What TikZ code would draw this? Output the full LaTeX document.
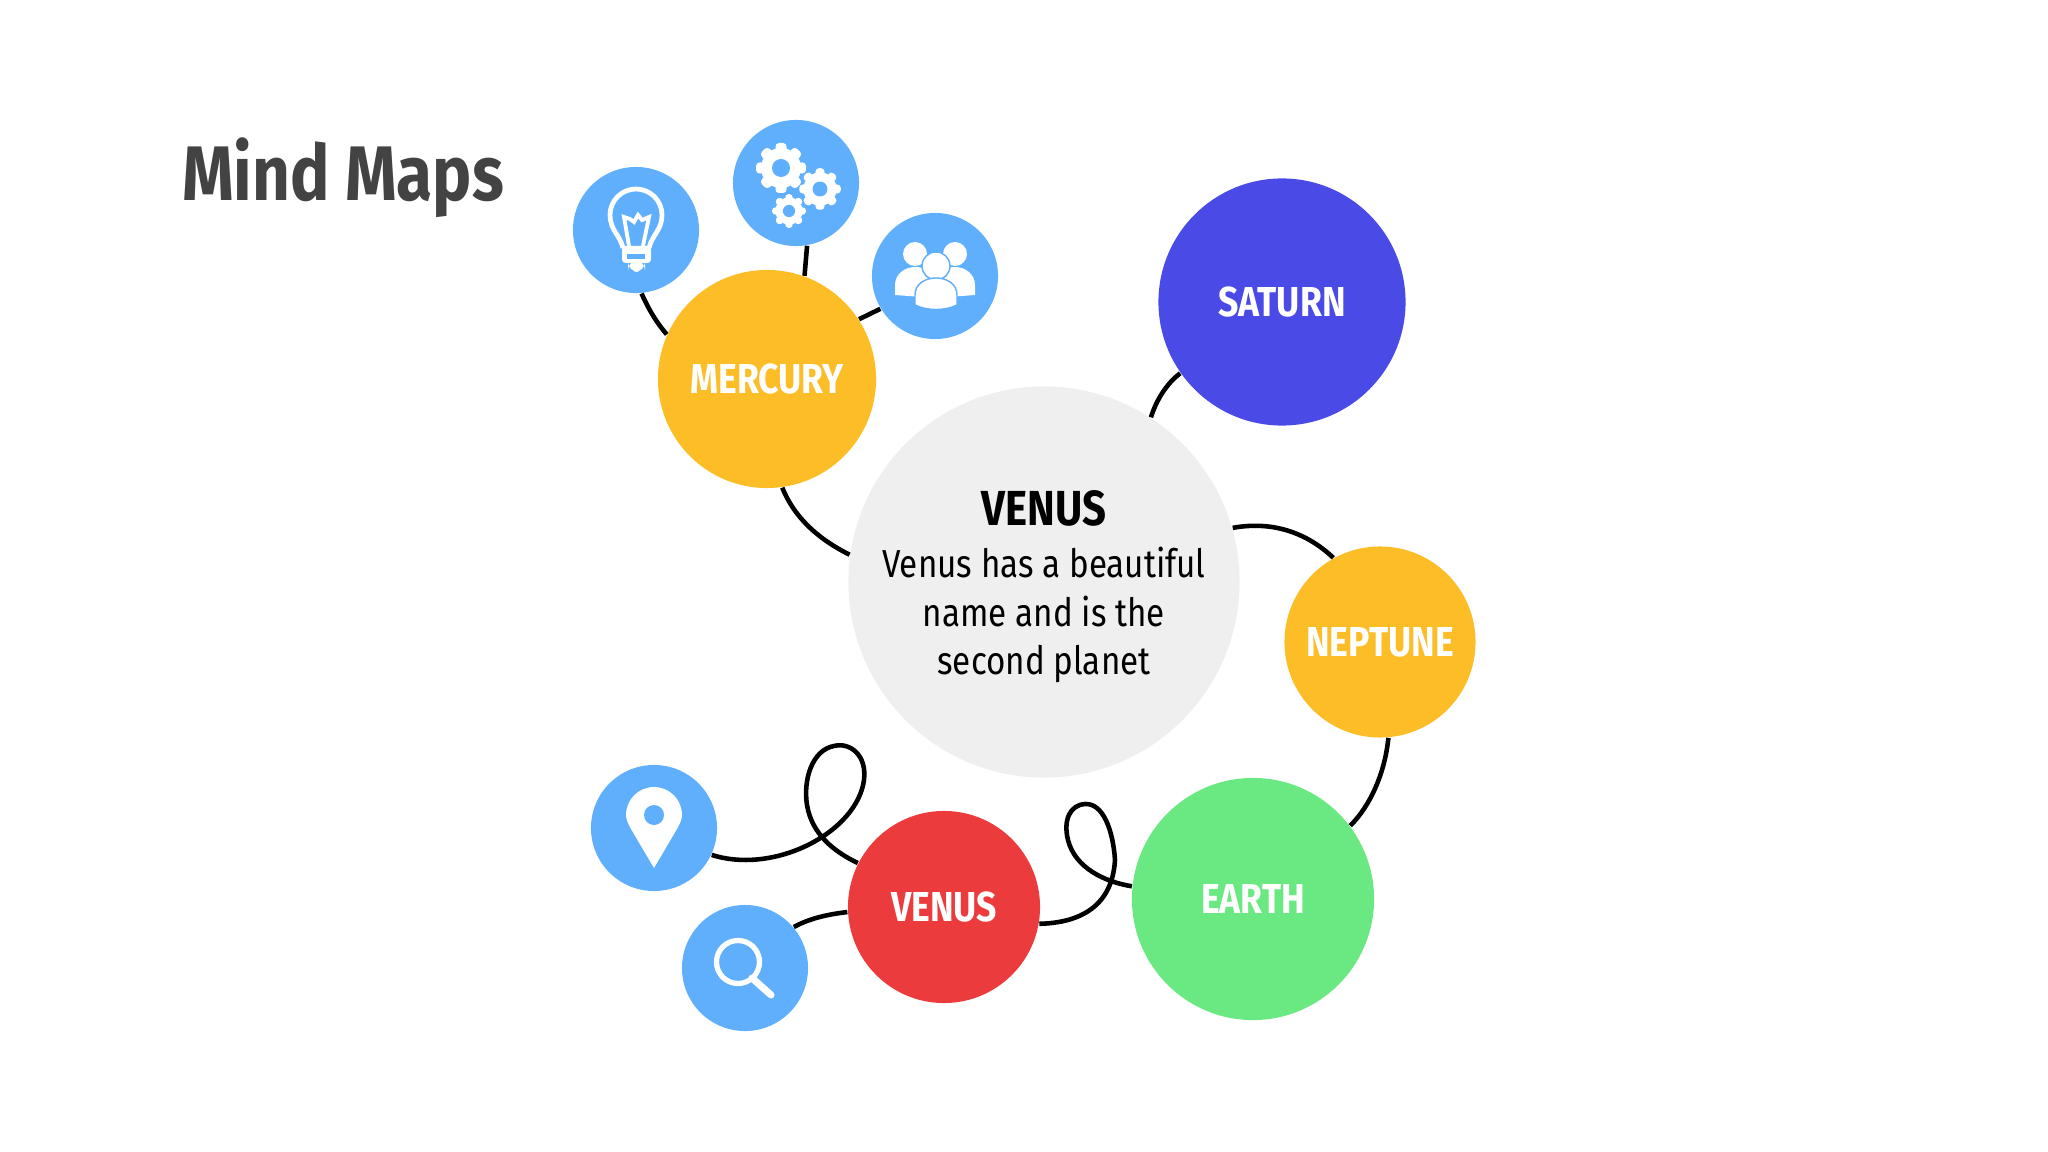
\documentclass[tikz,border=0pt]{standalone}
\usepackage{fontspec}
\setmainfont[FakeStretch=0.85]{Fira Sans}
\usepackage{xcolor}
\definecolor{iconblue}{HTML}{5FAFFC}
\definecolor{amber}{HTML}{FDBD27}
\definecolor{indigo}{HTML}{4A4AE6}
\definecolor{leaf}{HTML}{6AE882}
\definecolor{scarlet}{HTML}{EC3B3C}
\definecolor{pale}{HTML}{EFEFEF}
\definecolor{ink}{HTML}{434343}
\tikzset{
  planet/.style={circle, inner sep=0pt, align=center, text=white, font=\fontsize{11.9}{14}\selectfont\bfseries},
  icon/.style={circle, inner sep=0pt, fill=iconblue, minimum size=1.26cm},
  link/.style={draw=black, line width=1.3pt},
  gearpic/.pic={
    \fill[white] (0,0) circle[radius=20];
    \foreach \a in {0,45,...,315} {
      \fill[white, rotate=\a, rounded corners=1pt] (-5.5,16) rectangle (5.5,25);
    }
    \fill[iconblue] (0,0) circle[radius=9];
  }
}
\begin{document}
\begin{tikzpicture}[x=0.01cm, y=-0.01cm]
\useasboundingbox (0,0) rectangle (2048,1152);
\node[text=ink, font=\fontsize{22}{26}\selectfont\bfseries, inner sep=0pt] (title) at (343,178) {Mind Maps};

\node[planet, fill=pale, minimum size=3.91cm] (sun) at (1044,582) {};
\node[text=black, align=center, inner sep=0pt, font=\fontsize{11.1}{13.8}\selectfont] (sunlabel) at (1044,587)
  {{\fontsize{14}{17}\selectfont\bfseries VENUS}\\[1pt]Venus has a beautiful\\name and is the\\second planet};
\node[planet, fill=amber, minimum size=2.18cm] (mercury) at (767,379) {MERCURY};
\node[planet, fill=indigo, minimum size=2.47cm] (saturn) at (1282,302) {SATURN};
\node[planet, fill=amber, minimum size=1.91cm] (neptune) at (1380,642) {NEPTUNE};
\node[planet, fill=leaf, minimum size=2.42cm] (earth) at (1253,899) {EARTH};
\node[planet, fill=scarlet, minimum size=1.92cm] (venus) at (944,907) {VENUS};

\node[icon] (bulb) at (636,230) {};
\node[icon] (gears) at (796,183) {};
\node[icon] (people) at (935,276) {};
\node[icon] (pin) at (654,828) {};
\node[icon] (lens) at (745,968) {};

\draw[link] (bulb.-85) .. controls (648,308) and (656,322) .. (mercury.156);
\draw[link] (gears.-80) -- (mercury.70);
\draw[link] (people.211) -- (mercury.33);
\draw[link] (mercury.-82) .. controls (795,519) and (820,540) .. (sun.172);
\draw[link] (saturn.215) .. controls (1166,384) and (1156,401) .. (sun.57);
\draw[link] (sun.16.5) .. controls (1270,521) and (1305,531) .. (neptune.119);
\draw[link] (neptune.-85) .. controls (1385,772) and (1371,805) .. (earth.37);
\draw[link] (pin.-25) .. controls (775,875) and (857,832) .. (864,780) .. controls (867,755) and (850,742) .. (834,746) .. controls (812,750) and (803,780) .. (807,805) .. controls (812,835) and (835,852) .. (venus.153);
\draw[link] (lens.40) .. controls (810,918) and (830,914) .. (venus.183);
\draw[link] (venus.-10) .. controls (1075,923) and (1112,910) .. (1115,860) .. controls (1113,830) and (1103,803) .. (1085,804) .. controls (1070,805) and (1063,820) .. (1068,840) .. controls (1075,868) and (1105,882) .. (earth.174);

\draw[white, line width=1.35pt] (623,248) .. controls (620,235) and (610,230) .. (610,215) arc[start angle=180, end angle=360, radius=26] .. controls (662,230) and (652,235) .. (649,248);
\draw[white, line width=1.1pt, line join=miter] (629,246) -- (624,217) -- (630,219) -- (634,222) -- (638,215) -- (642,220) -- (649,217) -- (643,246);
\fill[white, rounded corners=1pt] (622,246) rectangle (651,263);
\fill[iconblue] (627,254) rectangle (645,259);
\fill[white, rounded corners=3pt] (628,260) rectangle (645,272);

\pic[scale=1] at (781,168) {gearpic};
\pic[scale=0.83] at (820,189) {gearpic};
\pic[scale=0.68] at (789,211) {gearpic};

\fill[white] (915,254) circle[radius=12];
\fill[white] (955,254) circle[radius=12];
\fill[white] (895,295) -- (895,285) .. controls (895,274) and (905,267) .. (915,267) .. controls (925,267) and (935,272) .. (935,285) -- (935,298) -- cycle;
\fill[white] (975,295) -- (975,285) .. controls (975,274) and (965,267) .. (955,267) .. controls (945,267) and (935,272) .. (935,285) -- (935,298) -- cycle;
\filldraw[white, draw=iconblue, line width=0.4pt] (936,266) circle[radius=14];
\filldraw[white, draw=iconblue, line width=0.4pt] (915,305) -- (915,295) .. controls (915,284) and (925,278) .. (936,278) .. controls (947,278) and (957,284) .. (957,295) -- (957,305) .. controls (945,311) and (927,311) .. (915,305) -- cycle;

\fill[white] (654,868) -- (631,829) .. controls (628,823) and (626,820) .. (626,815) arc[start angle=180, end angle=360, radius=28] .. controls (682,820) and (680,823) .. (677,829) -- cycle;
\fill[iconblue] (654,815) circle[radius=10];

\draw[white, line width=1.5pt] (738,962) circle[radius=21.5];
\draw[white, line width=2pt, line cap=round] (752,978) -- (771,995);
\end{tikzpicture}
\end{document}
